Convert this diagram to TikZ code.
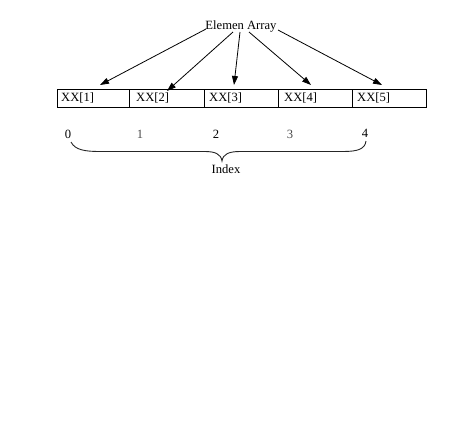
\documentclass[tikz,border=0pt]{standalone}
\usepackage{fontspec}
\setmainfont{Liberation Serif}
\usetikzlibrary{arrows.meta}
\tikzset{
  txt/.style={inner sep=0pt, font=\fontsize{12.6}{15}\selectfont},
  cell/.style={draw=black, line width=0.9pt, minimum width=#1, minimum height=18.5pt, inner sep=0pt, anchor=north west},
  celltext/.style={txt, anchor=west},
  ptr/.style={draw=black, line width=0.8pt, -{Triangle[length=9pt,width=6pt]}},
  bignum/.style={txt},
  smallnum/.style={txt, text=black!70},
  bracepath/.style={draw=black!85, line width=0.9pt}
}
\begin{document}
\begin{tikzpicture}[x=1pt,y=-1pt]
\useasboundingbox (0,0) rectangle (463,432);
% title
\node[txt] (t) at (241,26) {Elemen Array};
% cells
\node[cell=72pt]  (c1) at (57,88.5) {};
\node[cell=75pt]  (c2) at (129,88.5) {};
\node[cell=74pt]  (c3) at (204,88.5) {};
\node[cell=74pt]  (c4) at (278,88.5) {};
\node[cell=74pt]  (c5) at (352,88.5) {};
\node[celltext] (x1) at (61,98) {XX[1]};
\node[celltext] (x2) at (136,98) {XX[2]};
\node[celltext] (x3) at (209,98) {XX[3]};
\node[celltext] (x4) at (284,98) {XX[4]};
\node[celltext] (x5) at (357,98) {XX[5]};
% arrow ends
\coordinate (s1) at (206,29);
\coordinate (s2) at (233,32);
\coordinate (s3) at (240,32);
\coordinate (s4) at (249,32);
\coordinate (s5) at (278,30);
\coordinate (e1) at (100,85);
\coordinate (e2) at (167,91);
\coordinate (e3) at (234,85);
\coordinate (e4) at (311,85);
\coordinate (e5) at (382,85);
\draw[ptr] (s1) -- (e1);
\draw[ptr] (s2) -- (e2);
\draw[ptr] (s3) -- (e3);
\draw[ptr] (s4) -- (e4);
\draw[ptr] (s5) -- (e5);
% indices
\node[bignum] (i0) at (68,134.5) {0};
\node[smallnum] (i1) at (140,134.5) {1};
\node[bignum] (i2) at (216,134.5) {2};
\node[smallnum] (i3) at (290,134.5) {3};
\node[bignum] (i4) at (365,133.5) {4};
% brace
\draw[bracepath] (71,142) .. controls (75,150) and (85,151.5) .. (100,151.5)
  -- (205,151.5) .. controls (215,151.5) and (221,154) .. (222,161)
  .. controls (223,154) and (229,151.5) .. (240,151.5)
  -- (343,151.5) .. controls (358,151.5) and (365,149) .. (366,141);
\node[txt] (ix) at (226,169) {Index};
\end{tikzpicture}
\end{document}
